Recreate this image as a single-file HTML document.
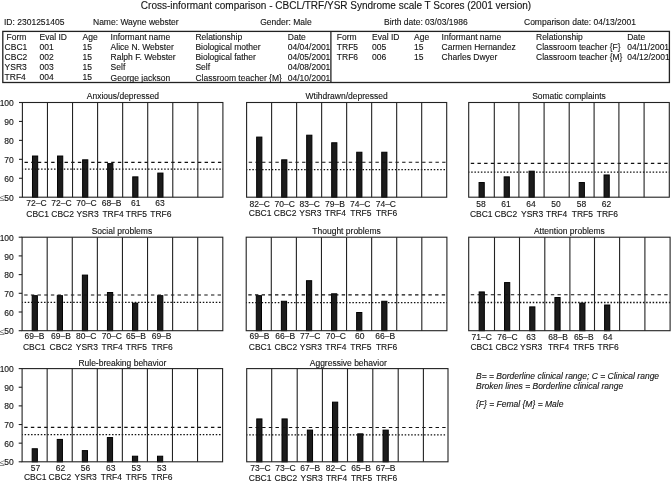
<!DOCTYPE html>
<html><head><meta charset="utf-8"><title>Cross-informant comparison</title>
<style>
html,body{margin:0;padding:0;background:#fff;}
body{width:672px;height:483px;overflow:hidden;}
svg{display:block;}
text{font-family:"Liberation Sans",Arial,Helvetica,sans-serif;font-size:8.5px;fill:#141414;stroke:#141414;stroke-width:0.12px;}
</style></head>
<body>
<svg width="672" height="483" viewBox="0 0 672 483">
<rect width="672" height="483" fill="#fff"/>
<text x="336.00" y="9.10" text-anchor="middle" style="font-size:10px">Cross-informant comparison - CBCL/TRF/YSR Syndrome scale T Scores (2001 version)</text>
<text x="4.00" y="25.00">ID: 2301251405</text>
<text x="93.00" y="25.00">Name: Wayne webster</text>
<text x="260.20" y="25.00">Gender: Male</text>
<text x="384.00" y="25.00">Birth date: 03/03/1986</text>
<text x="524.00" y="25.00">Comparison date: 04/13/2001</text>
<rect x="2.8" y="31.4" width="666.6" height="51.1" fill="none" stroke="#222" stroke-width="1.3"/>
<line x1="330.90" y1="31.40" x2="330.90" y2="82.50" stroke-width="1.3" stroke="#222"/>
<text x="6.50" y="39.50">Form</text>
<text x="39.60" y="39.50">Eval ID</text>
<text x="82.60" y="39.50">Age</text>
<text x="110.60" y="39.80">Informant name</text>
<text x="195.40" y="39.80">Relationship</text>
<text x="287.80" y="39.80">Date</text>
<text x="4.60" y="49.90">CBC1</text>
<text x="39.60" y="49.90">001</text>
<text x="82.60" y="49.90">15</text>
<text x="110.60" y="50.20">Alice N. Webster</text>
<text x="195.40" y="50.20">Biological mother</text>
<text x="287.80" y="50.20">04/04/2001</text>
<text x="4.60" y="60.10">CBC2</text>
<text x="39.60" y="60.10">002</text>
<text x="82.60" y="60.10">15</text>
<text x="110.60" y="60.40">Ralph F. Webster</text>
<text x="195.40" y="60.40">Biological father</text>
<text x="287.80" y="60.40">04/05/2001</text>
<text x="4.60" y="69.90">YSR3</text>
<text x="39.60" y="69.90">003</text>
<text x="82.60" y="69.90">15</text>
<text x="110.60" y="70.20">Self</text>
<text x="195.40" y="70.20">Self</text>
<text x="287.80" y="70.20">04/08/2001</text>
<text x="4.60" y="80.20">TRF4</text>
<text x="39.60" y="80.20">004</text>
<text x="82.60" y="80.20">15</text>
<text x="110.60" y="80.50">George jackson</text>
<text x="195.40" y="80.50">Classroom teacher {M}</text>
<text x="287.80" y="80.50">04/10/2001</text>
<text x="336.80" y="39.50">Form</text>
<text x="372.00" y="39.50">Eval ID</text>
<text x="414.00" y="39.50">Age</text>
<text x="441.60" y="39.50">Informant name</text>
<text x="536.00" y="39.50">Relationship</text>
<text x="627.20" y="39.50">Date</text>
<text x="336.80" y="49.90">TRF5</text>
<text x="372.00" y="49.90">005</text>
<text x="414.00" y="49.90">15</text>
<text x="441.60" y="49.90">Carmen Hernandez</text>
<text x="536.00" y="49.90">Classroom teacher {F}</text>
<text x="627.20" y="49.90">04/11/2001</text>
<text x="336.80" y="60.10">TRF6</text>
<text x="372.00" y="60.10">006</text>
<text x="414.00" y="60.10">15</text>
<text x="441.60" y="60.10">Charles Dwyer</text>
<text x="536.00" y="60.10">Classroom teacher {M}</text>
<text x="627.20" y="60.10">04/12/2001</text>
<text x="122.95" y="99.40" text-anchor="middle">Anxious/depressed</text>
<rect x="32.48" y="156.03" width="5.2" height="41.17" fill="#1c1c1c" stroke="#000" stroke-width="1"/>
<rect x="57.54" y="156.03" width="5.2" height="41.17" fill="#1c1c1c" stroke="#000" stroke-width="1"/>
<rect x="82.61" y="159.82" width="5.2" height="37.38" fill="#1c1c1c" stroke="#000" stroke-width="1"/>
<rect x="107.67" y="163.61" width="5.2" height="33.59" fill="#1c1c1c" stroke="#000" stroke-width="1"/>
<rect x="132.73" y="176.87" width="5.2" height="20.33" fill="#1c1c1c" stroke="#000" stroke-width="1"/>
<rect x="157.79" y="173.08" width="5.2" height="24.12" fill="#1c1c1c" stroke="#000" stroke-width="1"/>
<line x1="22.40" y1="162.40" x2="222.90" y2="162.40" stroke-width="1.1" stroke="#111" stroke-dasharray="3.4 3.27" stroke-dashoffset="-2.1"/>
<line x1="22.40" y1="169.10" x2="222.90" y2="169.10" stroke-width="1.3" stroke="#111" stroke-dasharray="1.5 1.74" stroke-dashoffset="0.75"/>
<rect x="22.40" y="102.50" width="200.50" height="94.70" fill="none" stroke="#222" stroke-width="1.1"/>
<line x1="47.46" y1="102.50" x2="47.46" y2="197.20" stroke-width="1.1" stroke="#222"/>
<line x1="72.53" y1="102.50" x2="72.53" y2="197.20" stroke-width="1.1" stroke="#222"/>
<line x1="97.59" y1="102.50" x2="97.59" y2="197.20" stroke-width="1.1" stroke="#222"/>
<line x1="122.65" y1="102.50" x2="122.65" y2="197.20" stroke-width="1.1" stroke="#222"/>
<line x1="147.71" y1="102.50" x2="147.71" y2="197.20" stroke-width="1.1" stroke="#222"/>
<line x1="172.78" y1="102.50" x2="172.78" y2="197.20" stroke-width="1.1" stroke="#222"/>
<line x1="197.84" y1="102.50" x2="197.84" y2="197.20" stroke-width="1.1" stroke="#222"/>
<text x="26.25" y="205.80">72–C</text>
<text x="26.25" y="216.70">CBC1</text>
<text x="51.25" y="205.80">72–C</text>
<text x="51.25" y="216.70">CBC2</text>
<text x="76.25" y="205.80">70–C</text>
<text x="76.46" y="216.70">YSR3</text>
<text x="101.67" y="205.80">68–B</text>
<text x="102.39" y="216.70">TRF4</text>
<text x="130.97" y="205.80">61</text>
<text x="125.79" y="216.70">TRF5</text>
<text x="155.27" y="205.80">63</text>
<text x="150.29" y="216.70">TRF6</text>
<line x1="19.00" y1="197.20" x2="22.40" y2="197.20" stroke-width="1.1" stroke="#222"/>
<text x="13.80" y="200.80" text-anchor="end">50</text>
<text x="4.60" y="201.10" text-anchor="end" style="fill:#6a6a6a;stroke:none;font-size:9.5px">≤</text>
<line x1="19.00" y1="178.26" x2="22.40" y2="178.26" stroke-width="1.1" stroke="#222"/>
<text x="13.80" y="181.86" text-anchor="end">60</text>
<line x1="19.00" y1="159.32" x2="22.40" y2="159.32" stroke-width="1.1" stroke="#222"/>
<text x="13.80" y="162.92" text-anchor="end">70</text>
<line x1="19.00" y1="140.38" x2="22.40" y2="140.38" stroke-width="1.1" stroke="#222"/>
<text x="13.80" y="143.98" text-anchor="end">80</text>
<line x1="19.00" y1="121.44" x2="22.40" y2="121.44" stroke-width="1.1" stroke="#222"/>
<text x="13.80" y="125.04" text-anchor="end">90</text>
<line x1="19.00" y1="102.50" x2="22.40" y2="102.50" stroke-width="1.1" stroke="#222"/>
<text x="13.80" y="106.10" text-anchor="end">100</text>
<text x="346.65" y="99.40" text-anchor="middle">Wtihdrawn/depressed</text>
<rect x="256.66" y="137.09" width="5.2" height="60.11" fill="#1c1c1c" stroke="#000" stroke-width="1"/>
<rect x="281.67" y="159.82" width="5.2" height="37.38" fill="#1c1c1c" stroke="#000" stroke-width="1"/>
<rect x="306.68" y="135.20" width="5.2" height="62.00" fill="#1c1c1c" stroke="#000" stroke-width="1"/>
<rect x="331.69" y="142.77" width="5.2" height="54.43" fill="#1c1c1c" stroke="#000" stroke-width="1"/>
<rect x="356.71" y="152.24" width="5.2" height="44.96" fill="#1c1c1c" stroke="#000" stroke-width="1"/>
<rect x="381.72" y="152.24" width="5.2" height="44.96" fill="#1c1c1c" stroke="#000" stroke-width="1"/>
<line x1="246.60" y1="162.30" x2="446.70" y2="162.30" stroke-width="1.1" stroke="#111" stroke-dasharray="3.4 3.27" stroke-dashoffset="-2.1"/>
<line x1="246.60" y1="169.60" x2="446.70" y2="169.60" stroke-width="1.3" stroke="#111" stroke-dasharray="1.5 1.74" stroke-dashoffset="0.75"/>
<rect x="246.60" y="102.50" width="200.10" height="94.70" fill="none" stroke="#222" stroke-width="1.1"/>
<line x1="271.61" y1="102.50" x2="271.61" y2="197.20" stroke-width="1.1" stroke="#222"/>
<line x1="296.62" y1="102.50" x2="296.62" y2="197.20" stroke-width="1.1" stroke="#222"/>
<line x1="321.64" y1="102.50" x2="321.64" y2="197.20" stroke-width="1.1" stroke="#222"/>
<line x1="346.65" y1="102.50" x2="346.65" y2="197.20" stroke-width="1.1" stroke="#222"/>
<line x1="371.66" y1="102.50" x2="371.66" y2="197.20" stroke-width="1.1" stroke="#222"/>
<line x1="396.67" y1="102.50" x2="396.67" y2="197.20" stroke-width="1.1" stroke="#222"/>
<line x1="421.69" y1="102.50" x2="421.69" y2="197.20" stroke-width="1.1" stroke="#222"/>
<text x="249.57" y="206.50">82–C</text>
<text x="248.77" y="216.30">CBC1</text>
<text x="274.52" y="206.50">70–C</text>
<text x="273.77" y="216.30">CBC2</text>
<text x="299.57" y="206.50">83–C</text>
<text x="299.29" y="216.30">YSR3</text>
<text x="324.97" y="206.50">79–B</text>
<text x="324.79" y="216.30">TRF4</text>
<text x="349.97" y="206.50">74–C</text>
<text x="350.19" y="216.30">TRF5</text>
<text x="375.68" y="206.50">74–C</text>
<text x="375.89" y="216.30">TRF6</text>
<text x="569.00" y="99.40" text-anchor="middle">Somatic complaints</text>
<rect x="479.05" y="182.55" width="5.2" height="14.65" fill="#1c1c1c" stroke="#000" stroke-width="1"/>
<rect x="504.15" y="176.87" width="5.2" height="20.33" fill="#1c1c1c" stroke="#000" stroke-width="1"/>
<rect x="529.05" y="171.18" width="5.2" height="26.02" fill="#1c1c1c" stroke="#000" stroke-width="1"/>
<rect x="579.20" y="182.55" width="5.2" height="14.65" fill="#1c1c1c" stroke="#000" stroke-width="1"/>
<rect x="604.05" y="174.97" width="5.2" height="22.23" fill="#1c1c1c" stroke="#000" stroke-width="1"/>
<line x1="468.70" y1="163.40" x2="669.30" y2="163.40" stroke-width="1.1" stroke="#111" stroke-dasharray="3.4 3.27" stroke-dashoffset="-2.1"/>
<line x1="468.70" y1="172.20" x2="669.30" y2="172.20" stroke-width="1.3" stroke="#111" stroke-dasharray="1.5 1.74" stroke-dashoffset="0.75"/>
<rect x="468.70" y="102.50" width="200.60" height="94.70" fill="none" stroke="#222" stroke-width="1.1"/>
<line x1="494.30" y1="102.50" x2="494.30" y2="197.20" stroke-width="1.1" stroke="#222"/>
<line x1="518.90" y1="102.50" x2="518.90" y2="197.20" stroke-width="1.1" stroke="#222"/>
<line x1="544.10" y1="102.50" x2="544.10" y2="197.20" stroke-width="1.1" stroke="#222"/>
<line x1="569.20" y1="102.50" x2="569.20" y2="197.20" stroke-width="1.1" stroke="#222"/>
<line x1="594.10" y1="102.50" x2="594.10" y2="197.20" stroke-width="1.1" stroke="#222"/>
<line x1="618.90" y1="102.50" x2="618.90" y2="197.20" stroke-width="1.1" stroke="#222"/>
<line x1="644.10" y1="102.50" x2="644.10" y2="197.20" stroke-width="1.1" stroke="#222"/>
<text x="476.36" y="206.50">58</text>
<text x="469.88" y="216.90">CBC1</text>
<text x="501.27" y="206.50">61</text>
<text x="494.57" y="216.90">CBC2</text>
<text x="526.28" y="206.50">64</text>
<text x="520.99" y="216.90">YSR3</text>
<text x="551.36" y="206.50">50</text>
<text x="545.99" y="216.90">TRF4</text>
<text x="576.86" y="206.50">58</text>
<text x="571.79" y="216.90">TRF5</text>
<text x="601.78" y="206.50">62</text>
<text x="596.79" y="216.90">TRF6</text>
<text x="121.95" y="234.10" text-anchor="middle">Social problems</text>
<rect x="32.19" y="295.67" width="5.2" height="35.03" fill="#1c1c1c" stroke="#000" stroke-width="1"/>
<rect x="57.28" y="295.67" width="5.2" height="35.03" fill="#1c1c1c" stroke="#000" stroke-width="1"/>
<rect x="82.37" y="275.10" width="5.2" height="55.60" fill="#1c1c1c" stroke="#000" stroke-width="1"/>
<rect x="107.46" y="292.50" width="5.2" height="38.20" fill="#1c1c1c" stroke="#000" stroke-width="1"/>
<rect x="132.54" y="303.15" width="5.2" height="27.55" fill="#1c1c1c" stroke="#000" stroke-width="1"/>
<rect x="157.63" y="295.67" width="5.2" height="35.03" fill="#1c1c1c" stroke="#000" stroke-width="1"/>
<line x1="22.10" y1="295.00" x2="222.80" y2="295.00" stroke-width="1.1" stroke="#111" stroke-dasharray="3.4 3.27" stroke-dashoffset="-2.1"/>
<line x1="22.10" y1="302.40" x2="222.80" y2="302.40" stroke-width="1.3" stroke="#111" stroke-dasharray="1.5 1.74" stroke-dashoffset="0.75"/>
<rect x="22.10" y="237.20" width="200.70" height="93.50" fill="none" stroke="#222" stroke-width="1.1"/>
<line x1="47.19" y1="237.20" x2="47.19" y2="330.70" stroke-width="1.1" stroke="#222"/>
<line x1="72.28" y1="237.20" x2="72.28" y2="330.70" stroke-width="1.1" stroke="#222"/>
<line x1="97.36" y1="237.20" x2="97.36" y2="330.70" stroke-width="1.1" stroke="#222"/>
<line x1="122.45" y1="237.20" x2="122.45" y2="330.70" stroke-width="1.1" stroke="#222"/>
<line x1="147.54" y1="237.20" x2="147.54" y2="330.70" stroke-width="1.1" stroke="#222"/>
<line x1="172.62" y1="237.20" x2="172.62" y2="330.70" stroke-width="1.1" stroke="#222"/>
<line x1="197.71" y1="237.20" x2="197.71" y2="330.70" stroke-width="1.1" stroke="#222"/>
<text x="24.57" y="339.30">69–B</text>
<text x="22.88" y="349.60">CBC1</text>
<text x="51.08" y="339.30">69–B</text>
<text x="49.58" y="349.60">CBC2</text>
<text x="76.02" y="339.30">80–C</text>
<text x="75.79" y="349.60">YSR3</text>
<text x="101.67" y="339.30">70–C</text>
<text x="101.49" y="349.60">TRF4</text>
<text x="125.98" y="339.30">65–B</text>
<text x="125.79" y="349.60">TRF5</text>
<text x="151.67" y="339.30">69–B</text>
<text x="151.49" y="349.60">TRF6</text>
<line x1="18.70" y1="330.70" x2="22.10" y2="330.70" stroke-width="1.1" stroke="#222"/>
<text x="13.80" y="334.30" text-anchor="end">50</text>
<text x="4.60" y="334.60" text-anchor="end" style="fill:#6a6a6a;stroke:none;font-size:9.5px">≤</text>
<line x1="18.70" y1="312.00" x2="22.10" y2="312.00" stroke-width="1.1" stroke="#222"/>
<text x="13.80" y="315.60" text-anchor="end">60</text>
<line x1="18.70" y1="293.30" x2="22.10" y2="293.30" stroke-width="1.1" stroke="#222"/>
<text x="13.80" y="296.90" text-anchor="end">70</text>
<line x1="18.70" y1="274.60" x2="22.10" y2="274.60" stroke-width="1.1" stroke="#222"/>
<text x="13.80" y="278.20" text-anchor="end">80</text>
<line x1="18.70" y1="255.90" x2="22.10" y2="255.90" stroke-width="1.1" stroke="#222"/>
<text x="13.80" y="259.50" text-anchor="end">90</text>
<line x1="18.70" y1="237.20" x2="22.10" y2="237.20" stroke-width="1.1" stroke="#222"/>
<text x="13.80" y="240.80" text-anchor="end">100</text>
<text x="346.55" y="234.10" text-anchor="middle">Thought problems</text>
<rect x="256.29" y="295.67" width="5.2" height="35.03" fill="#1c1c1c" stroke="#000" stroke-width="1"/>
<rect x="281.38" y="301.28" width="5.2" height="29.42" fill="#1c1c1c" stroke="#000" stroke-width="1"/>
<rect x="306.47" y="280.71" width="5.2" height="49.99" fill="#1c1c1c" stroke="#000" stroke-width="1"/>
<rect x="331.56" y="293.80" width="5.2" height="36.90" fill="#1c1c1c" stroke="#000" stroke-width="1"/>
<rect x="356.64" y="312.50" width="5.2" height="18.20" fill="#1c1c1c" stroke="#000" stroke-width="1"/>
<rect x="381.73" y="301.28" width="5.2" height="29.42" fill="#1c1c1c" stroke="#000" stroke-width="1"/>
<line x1="246.20" y1="294.90" x2="446.90" y2="294.90" stroke-width="1.1" stroke="#111" stroke-dasharray="3.4 3.27" stroke-dashoffset="-2.1"/>
<line x1="246.20" y1="302.60" x2="446.90" y2="302.60" stroke-width="1.3" stroke="#111" stroke-dasharray="1.5 1.74" stroke-dashoffset="0.75"/>
<rect x="246.20" y="237.20" width="200.70" height="93.50" fill="none" stroke="#222" stroke-width="1.1"/>
<line x1="271.29" y1="237.20" x2="271.29" y2="330.70" stroke-width="1.1" stroke="#222"/>
<line x1="296.38" y1="237.20" x2="296.38" y2="330.70" stroke-width="1.1" stroke="#222"/>
<line x1="321.46" y1="237.20" x2="321.46" y2="330.70" stroke-width="1.1" stroke="#222"/>
<line x1="346.55" y1="237.20" x2="346.55" y2="330.70" stroke-width="1.1" stroke="#222"/>
<line x1="371.64" y1="237.20" x2="371.64" y2="330.70" stroke-width="1.1" stroke="#222"/>
<line x1="396.72" y1="237.20" x2="396.72" y2="330.70" stroke-width="1.1" stroke="#222"/>
<line x1="421.81" y1="237.20" x2="421.81" y2="330.70" stroke-width="1.1" stroke="#222"/>
<text x="249.52" y="339.30">69–B</text>
<text x="248.77" y="349.60">CBC1</text>
<text x="275.27" y="339.30">66–B</text>
<text x="274.57" y="349.60">CBC2</text>
<text x="299.97" y="339.30">77–C</text>
<text x="299.79" y="349.60">YSR3</text>
<text x="325.68" y="339.30">70–C</text>
<text x="325.19" y="349.60">TRF4</text>
<text x="354.97" y="339.30">60</text>
<text x="350.19" y="349.60">TRF5</text>
<text x="375.27" y="339.30">66–B</text>
<text x="375.89" y="349.60">TRF6</text>
<text x="569.40" y="234.10" text-anchor="middle">Attention problems</text>
<rect x="479.15" y="291.93" width="5.2" height="38.77" fill="#1c1c1c" stroke="#000" stroke-width="1"/>
<rect x="504.55" y="282.58" width="5.2" height="48.12" fill="#1c1c1c" stroke="#000" stroke-width="1"/>
<rect x="529.70" y="306.89" width="5.2" height="23.81" fill="#1c1c1c" stroke="#000" stroke-width="1"/>
<rect x="554.90" y="297.54" width="5.2" height="33.16" fill="#1c1c1c" stroke="#000" stroke-width="1"/>
<rect x="579.75" y="303.15" width="5.2" height="27.55" fill="#1c1c1c" stroke="#000" stroke-width="1"/>
<rect x="604.60" y="305.02" width="5.2" height="25.68" fill="#1c1c1c" stroke="#000" stroke-width="1"/>
<line x1="468.70" y1="294.80" x2="670.10" y2="294.80" stroke-width="1.1" stroke="#111" stroke-dasharray="3.4 3.27" stroke-dashoffset="-2.1"/>
<line x1="468.70" y1="302.50" x2="670.10" y2="302.50" stroke-width="1.3" stroke="#111" stroke-dasharray="1.5 1.74" stroke-dashoffset="0.75"/>
<rect x="468.70" y="237.20" width="201.40" height="93.50" fill="none" stroke="#222" stroke-width="1.1"/>
<line x1="494.50" y1="237.20" x2="494.50" y2="330.70" stroke-width="1.1" stroke="#222"/>
<line x1="519.50" y1="237.20" x2="519.50" y2="330.70" stroke-width="1.1" stroke="#222"/>
<line x1="544.80" y1="237.20" x2="544.80" y2="330.70" stroke-width="1.1" stroke="#222"/>
<line x1="569.90" y1="237.20" x2="569.90" y2="330.70" stroke-width="1.1" stroke="#222"/>
<line x1="594.50" y1="237.20" x2="594.50" y2="330.70" stroke-width="1.1" stroke="#222"/>
<line x1="619.60" y1="237.20" x2="619.60" y2="330.70" stroke-width="1.1" stroke="#222"/>
<line x1="644.90" y1="237.20" x2="644.90" y2="330.70" stroke-width="1.1" stroke="#222"/>
<text x="471.52" y="339.70">71–C</text>
<text x="470.38" y="349.60">CBC1</text>
<text x="497.22" y="339.70">76–C</text>
<text x="495.38" y="349.60">CBC2</text>
<text x="526.28" y="339.70">63</text>
<text x="520.09" y="349.60">YSR3</text>
<text x="548.18" y="339.70">68–B</text>
<text x="547.89" y="349.60">TRF4</text>
<text x="573.88" y="339.70">65–B</text>
<text x="572.89" y="349.60">TRF5</text>
<text x="602.98" y="339.70">64</text>
<text x="597.49" y="349.60">TRF6</text>
<text x="122.35" y="365.50" text-anchor="middle">Rule-breaking behavior</text>
<rect x="32.18" y="448.75" width="5.2" height="13.05" fill="#1c1c1c" stroke="#000" stroke-width="1"/>
<rect x="57.24" y="439.43" width="5.2" height="22.37" fill="#1c1c1c" stroke="#000" stroke-width="1"/>
<rect x="82.31" y="450.62" width="5.2" height="11.18" fill="#1c1c1c" stroke="#000" stroke-width="1"/>
<rect x="107.37" y="437.57" width="5.2" height="24.23" fill="#1c1c1c" stroke="#000" stroke-width="1"/>
<rect x="132.43" y="456.21" width="5.2" height="5.59" fill="#1c1c1c" stroke="#000" stroke-width="1"/>
<rect x="157.49" y="456.21" width="5.2" height="5.59" fill="#1c1c1c" stroke="#000" stroke-width="1"/>
<line x1="22.10" y1="427.40" x2="222.60" y2="427.40" stroke-width="1.1" stroke="#111" stroke-dasharray="3.4 3.27" stroke-dashoffset="-2.1"/>
<line x1="22.10" y1="434.70" x2="222.60" y2="434.70" stroke-width="1.3" stroke="#111" stroke-dasharray="1.5 1.74" stroke-dashoffset="0.75"/>
<rect x="22.10" y="368.60" width="200.50" height="93.20" fill="none" stroke="#222" stroke-width="1.1"/>
<line x1="47.16" y1="368.60" x2="47.16" y2="461.80" stroke-width="1.1" stroke="#222"/>
<line x1="72.22" y1="368.60" x2="72.22" y2="461.80" stroke-width="1.1" stroke="#222"/>
<line x1="97.29" y1="368.60" x2="97.29" y2="461.80" stroke-width="1.1" stroke="#222"/>
<line x1="122.35" y1="368.60" x2="122.35" y2="461.80" stroke-width="1.1" stroke="#222"/>
<line x1="147.41" y1="368.60" x2="147.41" y2="461.80" stroke-width="1.1" stroke="#222"/>
<line x1="172.47" y1="368.60" x2="172.47" y2="461.80" stroke-width="1.1" stroke="#222"/>
<line x1="197.54" y1="368.60" x2="197.54" y2="461.80" stroke-width="1.1" stroke="#222"/>
<text x="30.76" y="470.50">57</text>
<text x="23.88" y="480.30">CBC1</text>
<text x="55.78" y="470.50">62</text>
<text x="48.58" y="480.30">CBC2</text>
<text x="80.66" y="470.50">56</text>
<text x="74.59" y="480.30">YSR3</text>
<text x="105.98" y="470.50">63</text>
<text x="100.79" y="480.30">TRF4</text>
<text x="131.56" y="470.50">53</text>
<text x="125.79" y="480.30">TRF5</text>
<text x="157.06" y="470.50">53</text>
<text x="151.19" y="480.30">TRF6</text>
<line x1="18.70" y1="461.80" x2="22.10" y2="461.80" stroke-width="1.1" stroke="#222"/>
<text x="13.80" y="465.40" text-anchor="end">50</text>
<text x="4.60" y="465.70" text-anchor="end" style="fill:#6a6a6a;stroke:none;font-size:9.5px">≤</text>
<line x1="18.70" y1="443.16" x2="22.10" y2="443.16" stroke-width="1.1" stroke="#222"/>
<text x="13.80" y="446.76" text-anchor="end">60</text>
<line x1="18.70" y1="424.52" x2="22.10" y2="424.52" stroke-width="1.1" stroke="#222"/>
<text x="13.80" y="428.12" text-anchor="end">70</text>
<line x1="18.70" y1="405.88" x2="22.10" y2="405.88" stroke-width="1.1" stroke="#222"/>
<text x="13.80" y="409.48" text-anchor="end">80</text>
<line x1="18.70" y1="387.24" x2="22.10" y2="387.24" stroke-width="1.1" stroke="#222"/>
<text x="13.80" y="390.84" text-anchor="end">90</text>
<line x1="18.70" y1="368.60" x2="22.10" y2="368.60" stroke-width="1.1" stroke="#222"/>
<text x="13.80" y="372.20" text-anchor="end">100</text>
<text x="348.25" y="365.50" text-anchor="middle">Aggressive behavior</text>
<rect x="256.75" y="418.93" width="5.2" height="42.87" fill="#1c1c1c" stroke="#000" stroke-width="1"/>
<rect x="282.00" y="418.93" width="5.2" height="42.87" fill="#1c1c1c" stroke="#000" stroke-width="1"/>
<rect x="307.35" y="430.11" width="5.2" height="31.69" fill="#1c1c1c" stroke="#000" stroke-width="1"/>
<rect x="332.50" y="402.15" width="5.2" height="59.65" fill="#1c1c1c" stroke="#000" stroke-width="1"/>
<rect x="357.70" y="433.84" width="5.2" height="27.96" fill="#1c1c1c" stroke="#000" stroke-width="1"/>
<rect x="383.05" y="430.11" width="5.2" height="31.69" fill="#1c1c1c" stroke="#000" stroke-width="1"/>
<line x1="246.70" y1="427.50" x2="445.60" y2="427.50" stroke-width="1.1" stroke="#111" stroke-dasharray="3.4 3.27" stroke-dashoffset="-2.1"/>
<line x1="246.70" y1="434.80" x2="445.60" y2="434.80" stroke-width="1.3" stroke="#111" stroke-dasharray="1.5 1.74" stroke-dashoffset="0.75"/>
<rect x="246.70" y="368.60" width="201.30" height="93.20" fill="none" stroke="#222" stroke-width="1.1"/>
<line x1="271.70" y1="368.60" x2="271.70" y2="461.80" stroke-width="1.1" stroke="#222"/>
<line x1="297.20" y1="368.60" x2="297.20" y2="461.80" stroke-width="1.1" stroke="#222"/>
<line x1="322.40" y1="368.60" x2="322.40" y2="461.80" stroke-width="1.1" stroke="#222"/>
<line x1="347.50" y1="368.60" x2="347.50" y2="461.80" stroke-width="1.1" stroke="#222"/>
<line x1="372.80" y1="368.60" x2="372.80" y2="461.80" stroke-width="1.1" stroke="#222"/>
<line x1="398.20" y1="368.60" x2="398.20" y2="461.80" stroke-width="1.1" stroke="#222"/>
<line x1="423.40" y1="368.60" x2="423.40" y2="461.80" stroke-width="1.1" stroke="#222"/>
<text x="250.27" y="470.90">73–C</text>
<text x="248.77" y="481.10">CBC1</text>
<text x="275.27" y="470.90">73–C</text>
<text x="274.57" y="481.10">CBC2</text>
<text x="300.27" y="470.90">67–B</text>
<text x="300.49" y="481.10">YSR3</text>
<text x="325.72" y="470.90">82–C</text>
<text x="325.89" y="481.10">TRF4</text>
<text x="351.18" y="470.90">65–B</text>
<text x="350.89" y="481.10">TRF5</text>
<text x="375.68" y="470.90">67–B</text>
<text x="375.89" y="481.10">TRF6</text>
<g font-style="italic">
<text x="476.00" y="378.50">B= = Borderline clinical range; C = Clinical range</text>
<text x="476.00" y="388.50">Broken lines = Borderline clinical range</text>
<text x="476.00" y="406.70">{F} = Femal {M} = Male</text>
</g>
</svg>
</body></html>
